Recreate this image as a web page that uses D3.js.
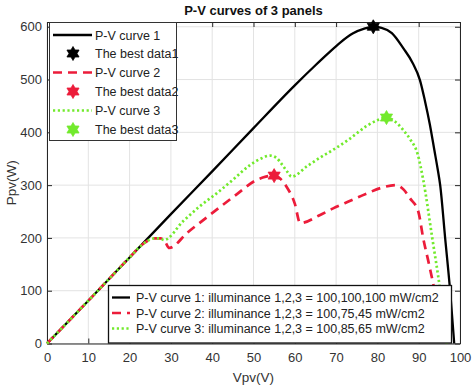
<!DOCTYPE html>
<html>
<head>
<meta charset="utf-8">
<script src="https://cdn.jsdelivr.net/npm/d3@7"></script>
<style>
  body { margin: 0; background: #fff; }
  svg { font-family: "Liberation Sans", Arial, sans-serif; }
</style>
</head>
<body>
<svg width="474" height="390"></svg>
<script>
// curve 1 : 100,100,100 mW/cm2
var v1 = [0, 10, 20, 30, 40, 50, 60, 65, 68, 71, 74, 77, 79, 81, 83.5, 86.3, 88.5, 90.3, 91.5, 92.7, 93.8, 94.6, 95.2, 96.4, 97.6, 98.6];
var p1 = [0, 81, 163, 245, 326, 408, 489, 527, 549, 570, 587, 597, 600, 598, 588, 559, 532, 499, 460, 415, 366, 330, 300, 200, 101, 0];
// curve 2 : 100,75,45 mW/cm2
var v2 = [0, 10, 20, 23, 24.5, 26, 27.5, 28.5, 29.6, 34, 41, 46, 50.8, 53, 55, 56.5, 58, 60, 61.3, 66, 69.3, 73, 77.4, 81, 84.5, 86.3, 87.9, 89.9, 91.1, 92.5, 93.8, 95.8];
var p2 = [0, 81, 163, 187, 195, 199, 199, 194, 181, 210, 253, 283, 310, 316, 318, 312, 297, 265, 228, 243, 256, 269, 284, 295, 300, 292, 275, 250, 199, 150, 101, 0];
// curve 3 : 100,85,65 mW/cm2
var v3 = [0, 10, 20, 23, 24.5, 26, 27.5, 28.3, 33, 37, 41, 45, 49, 52, 54, 55.5, 57, 58.3, 59.2, 63, 66.1, 69.3, 73, 77.4, 80, 82.2, 84, 86.3, 88, 89.7, 91.1, 93.3, 95.2, 96.8];
var p3 = [0, 81, 163, 187, 195, 199, 199, 196, 232, 260, 284, 310, 337, 351, 356, 352, 338, 324, 316, 336, 352, 367, 386, 412, 423, 428, 422, 404, 386, 360, 310, 199, 101, 0];

// maximum power points
var bestV = [79, 55, 82.2];
var bestP = [600, 318, 428];

var xTicks = [0, 10, 20, 30, 40, 50, 60, 70, 80, 90, 100];
var yTicks = [0, 100, 200, 300, 400, 500, 600];

var curveNames = ['P-V curve 1', 'P-V curve 2', 'P-V curve 3'];
var bestNames = ['The best data1', 'The best data2', 'The best data3'];
var illumNames = [
  'P-V curve 1: illuminance 1,2,3 = 100,100,100 mW/cm2',
  'P-V curve 2: illuminance 1,2,3 = 100,75,45 mW/cm2',
  'P-V curve 3: illuminance 1,2,3 = 100,85,65 mW/cm2'
];

var colors = ['#000000', '#ec1c3a', '#72ea2c'];
var dashes = [null, '9,6', '2.2,2.6'];
var widths = [2.3, 2.7, 2.7];

var svg = d3.select('svg'),
  width = +svg.attr('width'),
  height = +svg.attr('height');

var margin = {top: 22, right: 14, bottom: 46.5, left: 47};
var w = width - margin.left - margin.right,
  h = height - margin.top - margin.bottom;

var x = d3.scaleLinear().domain([0, 100]).range([margin.left, margin.left + w]);
var y = d3.scaleLinear().domain([0, 609]).range([margin.top + h, margin.top]);

// grid
var grid = svg.append('g').attr('class', 'grid');
grid.selectAll('line.gx')
  .data(xTicks)
  .enter()
  .append('line')
  .attr('x1', function(d) { return x(d); })
  .attr('x2', function(d) { return x(d); })
  .attr('y1', margin.top)
  .attr('y2', margin.top + h)
  .attr('stroke', '#e3e3e3');
grid.selectAll('line.gy')
  .data(yTicks)
  .enter()
  .append('line')
  .attr('y1', function(d) { return y(d); })
  .attr('y2', function(d) { return y(d); })
  .attr('x1', margin.left)
  .attr('x2', margin.left + w)
  .attr('stroke', '#e3e3e3');

// axes, ticks pointing inward on all sides
var axisColor = '#262626';
svg.append('g')
  .attr('transform', 'translate(0,' + (margin.top + h) + ')')
  .call(d3.axisBottom(x).tickValues(xTicks).tickSizeInner(-5).tickSizeOuter(0).tickPadding(9));
svg.append('g')
  .attr('transform', 'translate(0,' + margin.top + ')')
  .call(d3.axisTop(x).tickValues(xTicks).tickSizeInner(-5).tickSizeOuter(0).tickFormat(''));
svg.append('g')
  .attr('transform', 'translate(' + margin.left + ',0)')
  .call(d3.axisLeft(y).tickValues(yTicks).tickSizeInner(-5).tickSizeOuter(0).tickPadding(5));
svg.append('g')
  .attr('transform', 'translate(' + (margin.left + w) + ',0)')
  .call(d3.axisRight(y).tickValues(yTicks).tickSizeInner(-5).tickSizeOuter(0).tickFormat(''));

svg.selectAll('.domain').attr('stroke', axisColor);
svg.selectAll('.tick line').attr('stroke', axisColor);
svg.selectAll('.tick text')
  .attr('fill', '#333')
  .style('font-size', '13px')
  .style('font-family', '"Liberation Sans", Arial, sans-serif');

// curves
var line = d3.line()
  .x(function(d) { return x(d[0]); })
  .y(function(d) { return y(d[1]); })
  .curve(d3.curveMonotoneX);

var series = [d3.zip(v1, p1), d3.zip(v2, p2), d3.zip(v3, p3)];

svg.append('g')
  .attr('class', 'curves')
  .selectAll('path')
  .data(series)
  .enter()
  .append('path')
  .attr('d', line)
  .attr('fill', 'none')
  .attr('stroke', function(d, i) { return colors[i]; })
  .attr('stroke-width', function(d, i) { return widths[i]; })
  .attr('stroke-dasharray', function(d, i) { return dashes[i]; });

// hexagram like matlab's 'h' marker
function hexagram(r) {
  var pts = [];
  for (var k = 0; k < 12; k++) {
    var a = -Math.PI / 2 + k * Math.PI / 6;
    var rr = k % 2 == 0 ? r : r / Math.sqrt(3);
    pts.push([rr * Math.cos(a), rr * Math.sin(a)]);
  }
  return 'M' + pts.join('L') + 'Z';
}

svg.append('g')
  .attr('class', 'best')
  .selectAll('path')
  .data(d3.range(bestV.length))
  .enter()
  .append('path')
  .attr('d', hexagram(7))
  .attr('transform', function(i) { return 'translate(' + x(bestV[i]) + ',' + y(bestP[i]) + ')'; })
  .attr('fill', function(i) { return colors[i]; })
  .attr('stroke', function(i) { return colors[i]; })
  .attr('stroke-width', 0.8);

// top-left legend
var leg1 = svg.append('g').attr('class', 'legend1');
leg1.append('rect')
  .attr('x', 49.5)
  .attr('y', 22.5)
  .attr('width', 127)
  .attr('height', 118)
  .attr('fill', '#fff')
  .attr('stroke', '#333');

var rowY = [35, 53.5, 72.5, 91.5, 110.5, 129.5];
for (var i = 0; i < 3; i++) {
  leg1.append('line')
    .attr('x1', 53)
    .attr('x2', 92)
    .attr('y1', rowY[i * 2])
    .attr('y2', rowY[i * 2])
    .attr('stroke', colors[i])
    .attr('stroke-width', widths[i])
    .attr('stroke-dasharray', dashes[i]);
  leg1.append('text')
    .attr('x', 95)
    .attr('y', rowY[i * 2] + 4.5)
    .attr('font-size', 12.5)
    .attr('fill', '#222')
    .text(curveNames[i]);
  leg1.append('path')
    .attr('d', hexagram(7))
    .attr('transform', 'translate(73,' + rowY[i * 2 + 1] + ')')
    .attr('fill', colors[i])
    .attr('stroke', colors[i])
    .attr('stroke-width', 0.8);
  leg1.append('text')
    .attr('x', 95)
    .attr('y', rowY[i * 2 + 1] + 4.5)
    .attr('font-size', 12.5)
    .attr('fill', '#222')
    .text(bestNames[i]);
}

// bottom legend
var leg2 = svg.append('g').attr('class', 'legend2');
leg2.append('rect')
  .attr('x', 108.5)
  .attr('y', 285.5)
  .attr('width', 343)
  .attr('height', 57.5)
  .attr('fill', '#fff')
  .attr('stroke', '#111')
  .attr('stroke-width', 1.3);

var row2Y = [297.5, 313, 328.5];
for (var j = 0; j < 3; j++) {
  leg2.append('line')
    .attr('x1', 112)
    .attr('x2', 130)
    .attr('y1', row2Y[j])
    .attr('y2', row2Y[j])
    .attr('stroke', colors[j])
    .attr('stroke-width', widths[j])
    .attr('stroke-dasharray', dashes[j]);
  leg2.append('text')
    .attr('x', 136)
    .attr('y', row2Y[j] + 4.5)
    .attr('font-size', 12.5)
    .attr('fill', '#222')
    .text(illumNames[j]);
}

// title and labels
svg.append('text')
  .attr('x', margin.left + w / 2)
  .attr('y', 15)
  .attr('text-anchor', 'middle')
  .attr('font-size', 13)
  .attr('font-weight', 'bold')
  .attr('fill', '#111')
  .text('P-V curves of 3 panels');

svg.append('text')
  .attr('x', margin.left + w / 2)
  .attr('y', 382)
  .attr('text-anchor', 'middle')
  .attr('font-size', 13.5)
  .attr('fill', '#333')
  .text('Vpv(V)');

svg.append('text')
  .attr('transform', 'translate(16,' + (margin.top + h / 2) + ') rotate(-90)')
  .attr('text-anchor', 'middle')
  .attr('font-size', 13.5)
  .attr('fill', '#333')
  .text('Ppv(W)');
</script>
</body>
</html>
